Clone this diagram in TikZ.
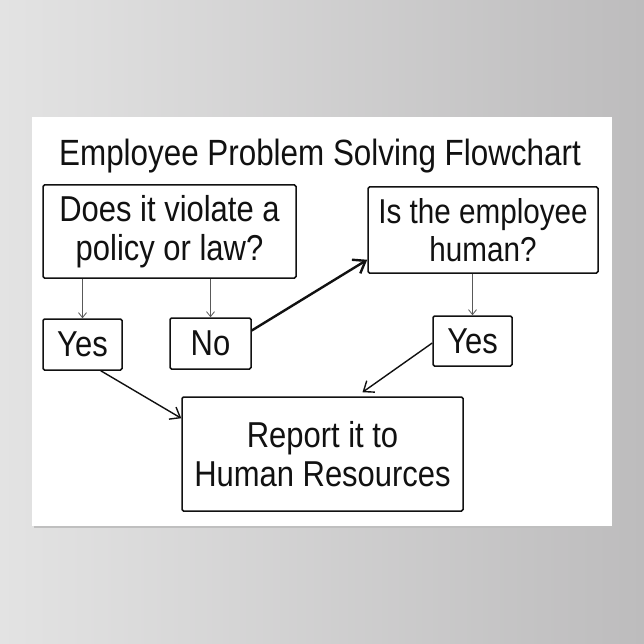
\documentclass[tikz,border=0pt]{standalone}
\usepackage{fontspec}
\setmainfont{Liberation Sans}[FakeStretch=0.86]
\usetikzlibrary{arrows.meta}
\definecolor{bgL}{HTML}{E3E3E3}
\definecolor{bgR}{HTML}{BDBCBD}
\definecolor{ink}{HTML}{111111}
\tikzset{
  box/.style={draw=ink, line width=1.5pt, rounded corners=1.5pt, inner sep=0pt, align=center,
    font=\fontsize{36}{39}\selectfont, text=ink},
  downarrow/.style={draw=black!65, line width=0.8pt, -{Straight Barb[length=5pt,width=8pt]}},
  thinarrow/.style={draw=ink, line width=1.4pt, -{Straight Barb[length=9pt,width=14pt]}},
  thickarrow/.style={draw=ink, line width=2.4pt, -{Straight Barb[length=11pt,width=16pt]}},
}
\begin{document}
\begin{tikzpicture}[x=1pt,y=-1pt]
\useasboundingbox (0,0) rectangle (644,644);
\shade[left color=bgL, right color=bgR] (0,0) rectangle (644,644);
% poster shadow and sheet
\fill[black!25] (34,119) rectangle (614,528);
\fill[white] (32,117) rectangle (612,526);
% title
\node[anchor=base, inner sep=0pt, font=\fontsize{36.5}{40}\selectfont, text=ink] (title) at (320,166) {Employee Problem Solving Flowchart};
% boxes
\node[box, minimum width=253pt, minimum height=93pt] (q1) at (169.5,231.5) {Does it violate a\\policy or law?};
\node[box, minimum width=230pt, minimum height=86pt, font=\fontsize{34.5}{38}\selectfont] (q2) at (483,230) {Is the employee\\human?};
\node[box, minimum width=79pt, minimum height=51pt] (yes1) at (82.5,344.5) {Yes};
\node[box, minimum width=81pt, minimum height=51pt] (no) at (210.5,343.5) {No};
\node[box, minimum width=79pt, minimum height=50pt] (yes2) at (472.5,341) {Yes};
\node[box, minimum width=281pt, minimum height=114pt] (hr) at (322.5,454) {Report it to\\Human Resources};
% connectors
\draw[downarrow] (q1.south -| yes1.center) coordinate (a1) -- (a1 |- yes1.north);
\draw[downarrow] (q1.south -| no.center) coordinate (a2) -- (a2 |- no.north);
\draw[downarrow] (q2.south -| yes2.center) coordinate (a3) -- (a3 |- yes2.north);
\draw[thickarrow] ([yshift=13pt]no.east) -- ([yshift=14pt]q2.south west);
\draw[thinarrow] ([xshift=-22pt]yes1.south east) -- ([yshift=-22pt]hr.north west);
\draw[thinarrow] ([yshift=-2pt]yes2.west) -- ([xshift=40pt,yshift=4pt]hr.north);
\end{tikzpicture}
\end{document}
